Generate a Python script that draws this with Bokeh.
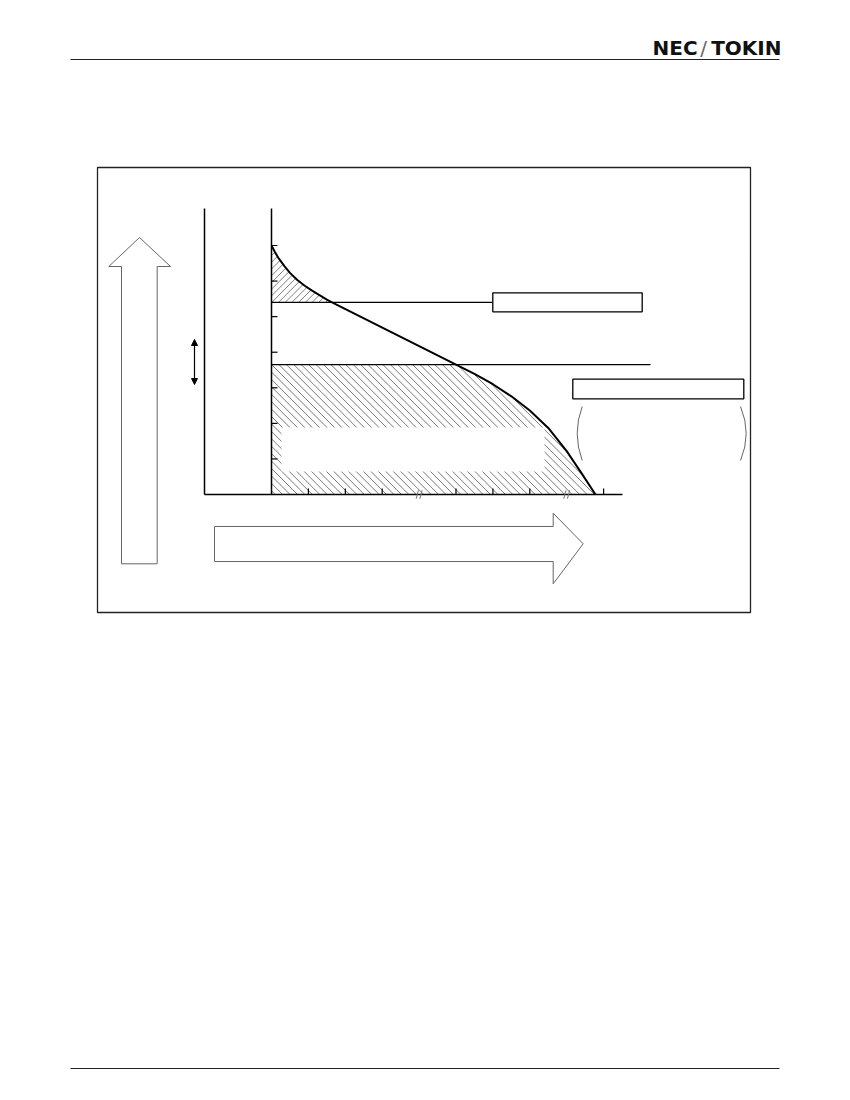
from bokeh.plotting import figure
from bokeh.models import Range1d, Arrow, NormalHead
from bokeh.core.properties import value
from bokeh.embed import file_html
from bokeh.resources import INLINE

# ---------------- data (chart units) ----------------
# characteristic curve
curve_x = [0.0, 0.10, 0.20, 0.35, 0.50, 0.70, 0.90, 1.10, 1.30, 1.50, 1.64,
           5.0, 5.5, 6.0, 6.5, 7.0, 7.5, 8.0, 8.4, 8.78]
curve_y = [7.0, 6.80, 6.63, 6.42, 6.23, 6.03, 5.87, 5.73, 5.605, 5.48, 5.40,
           3.65, 3.39, 3.10, 2.76, 2.36, 1.87, 1.22, 0.60, 0.0]
upper_level = 5.40
lower_level = 3.65
y_ticks = [1, 2, 3, 4, 5, 6, 7]
x_ticks = [1, 2, 3, 5, 6, 7, 9]
x_breaks = [4, 8]
logo_parts = ["NEC", "/", "TOKIN"]

# ---------------- layout constants (page pixels) ----------------
W, H = 834, 1084
X0_PX, X_UNIT = 271.0, 36.9      # chart x = 0 at page x 271
Y0_PX, Y_UNIT = 494.0, 35.57     # chart y = 0 at page y 494

p = figure(width=W, height=H, output_backend="svg", toolbar_location=None,
           x_range=Range1d(0, W), y_range=Range1d(H, 0),
           min_border=0, outline_line_color=None)
p.axis.visible = False
p.grid.visible = False
p.background_fill_color = "white"

p.extra_x_ranges = {"cx": Range1d((0 - X0_PX) / X_UNIT, (W - X0_PX) / X_UNIT)}
p.extra_y_ranges = {"cy": Range1d((Y0_PX - H) / Y_UNIT, (Y0_PX - 0) / Y_UNIT)}
C = dict(x_range_name="cx", y_range_name="cy")


def hatch_lines(xs, ys, spacing, direction):
    """Clip diagonal hatch lines (in screen pixel space) to a polygon given in chart units.
    Returns the segments back in chart units."""
    P = [(X0_PX + x * X_UNIT, Y0_PX - y * Y_UNIT) for x, y in zip(xs, ys)]
    s = 1 if direction == "\\" else -1      # "\" : px - py = c ; "/" : px + py = c
    vals = [px - s * py for px, py in P]
    lo, hi = min(vals), max(vals)
    out_x, out_y = [], []
    c = lo + spacing / 2
    while c < hi:
        pts = []
        n = len(P)
        for i in range(n):
            (x1, y1), (x2, y2) = P[i], P[(i + 1) % n]
            f1, f2 = vals[i] - c, vals[(i + 1) % n] - c
            if (f1 < 0 <= f2) or (f2 < 0 <= f1):
                t = f1 / (f1 - f2)
                pts.append((x1 + t * (x2 - x1), y1 + t * (y2 - y1)))
        pts.sort()
        for a, b in zip(pts[0::2], pts[1::2]):
            out_x.append([(a[0] - X0_PX) / X_UNIT, (b[0] - X0_PX) / X_UNIT])
            out_y.append([(Y0_PX - a[1]) / Y_UNIT, (Y0_PX - b[1]) / Y_UNIT])
        c += spacing
    return out_x, out_y


# ---------------- page decorations ----------------
font = value("DejaVu Sans")
p.text(x=[652], y=[47], text=[logo_parts[0]], text_font=font, text_font_style="bold",
       text_font_size="20px", text_align="left", text_baseline="alphabetic", text_color="#111111")
p.text(x=[703], y=[47], text=[logo_parts[1]], text_font=font, text_font_style="normal",
       text_font_size="20px", text_align="center", text_baseline="alphabetic", text_color="#666666")
p.text(x=[781], y=[47], text=[logo_parts[2]], text_font=font, text_font_style="bold",
       text_font_size="20px", text_align="right", text_baseline="alphabetic", text_color="#111111")
p.segment(x0=[70, 70], y0=[59, 1068], x1=[779, 779], y1=[59, 1068],
          line_color="#222222", line_width=1.2)

# outer frame
p.quad(left=[97], right=[750], top=[167], bottom=[612], fill_color=None,
       line_color="#222222", line_width=1.3)

# big up arrow
p.patch(x=[139, 170, 156.7, 156.7, 121, 121, 108.3],
        y=[237, 266, 266, 563.3, 563.3, 266, 266],
        fill_color="white", line_color="#666666", line_width=1)
# big right arrow
p.patch(x=[214, 552.7, 552.7, 582.7, 552.7, 552.7, 214],
        y=[526, 526, 512.7, 543.3, 583.3, 561, 561],
        fill_color="white", line_color="#666666", line_width=1)

# small double-headed arrow
p.add_layout(Arrow(x_start=194, y_start=339, x_end=194, y_end=384,
                   line_width=1.2, line_color="black",
                   start=NormalHead(size=6, fill_color="black", line_color="black"),
                   end=NormalHead(size=6, fill_color="black", line_color="black")))

# ---------------- chart (chart units) ----------------
# hatched regions
i_up = curve_y.index(upper_level)
up_x = curve_x[: i_up + 1] + [0.0]
up_y = curve_y[: i_up + 1] + [upper_level]
hx, hy = hatch_lines(up_x, up_y, 9.5 / 1.414, "/")
p.multi_line(xs=hx, ys=hy, line_color="#707070", line_width=0.9, **C)

i_lo = curve_y.index(lower_level)
lo_x = [0.0] + curve_x[i_lo:] + [0.0]
lo_y = [lower_level] + curve_y[i_lo:] + [0.0]
hx, hy = hatch_lines(lo_x, lo_y, 10.5 / 1.414, "\\")
p.multi_line(xs=hx, ys=hy, line_color="#6a6a6a", line_width=0.9, **C)

# blank label area inside lower region
p.quad(left=[(281 - X0_PX) / X_UNIT], right=[(544 - X0_PX) / X_UNIT],
       bottom=[(Y0_PX - 471) / Y_UNIT], top=[(Y0_PX - 427) / Y_UNIT],
       fill_color="white", line_color=None, **C)

# axes lines
y_top = (Y0_PX - 208) / Y_UNIT
x_left = (204 - X0_PX) / X_UNIT
x_right = (622 - X0_PX) / X_UNIT
p.segment(x0=[x_left, 0, x_left], y0=[0, 0, 0], x1=[x_left, 0, x_right], y1=[y_top, y_top, 0],
          line_color="black", line_width=1.5, **C)

# ticks
p.segment(x0=[0] * len(y_ticks), y0=y_ticks, x1=[6 / X_UNIT] * len(y_ticks), y1=y_ticks,
          line_color="black", line_width=1.2, **C)
p.segment(x0=x_ticks, y0=[0] * len(x_ticks), x1=x_ticks, y1=[6 / Y_UNIT] * len(x_ticks),
          line_color="black", line_width=1.2, **C)
# axis break marks
bx0, by0, bx1, by1 = [], [], [], []
for b in x_breaks:
    for off in (-0.05, 0.05):
        bx0.append(b + off - 0.03); by0.append(-0.12)
        bx1.append(b + off + 0.03); by1.append(0.12)
p.segment(x0=bx0, y0=by0, x1=bx1, y1=by1, line_color="#777777", line_width=1, **C)

# level lines
p.segment(x0=[0, 0], y0=[upper_level, lower_level],
          x1=[(492.3 - X0_PX) / X_UNIT, (650 - X0_PX) / X_UNIT], y1=[upper_level, lower_level],
          line_color="black", line_width=1.2, **C)

# curve
p.line(x=curve_x, y=curve_y, line_color="black", line_width=2, line_join="round", **C)

# annotation boxes (page pixels)
p.quad(left=[492.3, 572.3], right=[641.7, 743.3], top=[292.3, 378.7], bottom=[311.3, 398.3],
       fill_color="white", line_color="black", line_width=1.3)
# parentheses
p.quadratic(x0=[581.7, 740], y0=[406, 406], x1=[581.7, 740], y1=[460, 460],
            cx=[571.7, 751.4], cy=[433, 433], line_color="#666666", line_width=1)

open("out.html", "w").write(file_html(p, INLINE))
